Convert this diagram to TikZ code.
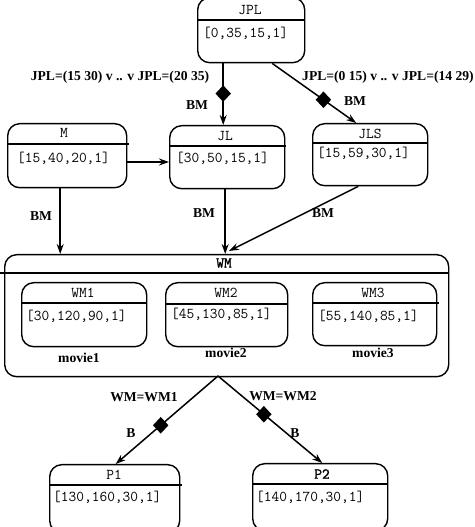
\documentclass[tikz,border=0pt]{standalone}
\usepackage{fontspec}
\setmainfont{Liberation Serif}
\setmonofont{Latin Modern Mono}[AutoFakeBold=1.6]
\usetikzlibrary{arrows.meta,calc,shapes.geometric}
\tikzset{
  box/.style={draw, line width=1.4pt, rounded corners=12pt, inner sep=0pt},
  divline/.style={line width=1.2pt},
  thk/.style={line width=2.6pt},
  mono/.style={font=\fontsize{15}{17}\selectfont\ttfamily, inner sep=0pt},
  monob/.style={font=\fontsize{15}{17}\selectfont\ttfamily\bfseries, inner sep=0pt},
  lbl/.style={font=\fontsize{13.6}{16}\selectfont\bfseries, inner sep=0pt},
  arr/.style={line width=1.5pt, -{Stealth[length=10pt,width=7pt]}},
  diam/.style={diamond, fill=black, draw=black, inner sep=0pt, minimum width=14pt, minimum height=15pt}
}
\begin{document}
\begin{tikzpicture}[x=1pt,y=1pt]
\useasboundingbox (0,0) rectangle (474,527);
\fill[white] (0,0) rectangle (474,527);
% JPL
\node[box, minimum width=107pt, minimum height=65pt, anchor=north west] (jpl) at (197,530) {};
\draw[divline] ($(jpl.north west)+(0,-23)$) -- ($(jpl.north east)+(0,-23)$);
\node[mono] (jplt) at (250,517) {JPL};
\node[mono, anchor=west] (jplv) at (203,494) {[0,35,15,1]};
% M
\node[box, minimum width=119pt, minimum height=64pt, anchor=north west] (m) at (7,404) {};
\draw[divline] ($(m.north west)+(0,-21)$) -- ($(m.north east)+(2,-21)$);
\draw[thk] ($(m.north west)+(23,-21)$) -- ($(m.north west)+(41,-21)$);
\node[mono] (mt) at (64,394) {M};
\node[mono, anchor=west] (mv) at (17,369) {[15,40,20,1]};
% JL
\node[box, minimum width=115pt, minimum height=63pt, anchor=north west] (jl) at (169,402) {};
\draw[divline] ($(jl.north west)+(0,-21)$) -- ($(jl.north east)+(1,-21)$);
\node[mono] (jlt) at (225,391) {JL};
\node[mono, anchor=west] (jlv) at (176,369) {[30,50,15,1]};
% JLS
\node[box, minimum width=115pt, minimum height=62pt, anchor=north west] (jls) at (312,404) {};
\draw[divline] ($(jls.north west)+(0,-20)$) -- ($(jls.north east)+(0,-20)$);
\node[mono] (jlst) at (370,393) {JLS};
\node[mono, anchor=west] (jlsv) at (317,374) {[15,59,30,1]};
% WM
\node[box, minimum width=444pt, minimum height=122pt, anchor=north west] (wm) at (4,273) {};
\draw[divline] ($(wm.north west)+(-4,-19)$) -- ($(wm.north east)+(0,-19)$);
\draw[thk] (310,254) -- (373,254);
\node[monob] (wmt) at (224,264) {WM};
% WM1
\node[box, minimum width=125pt, minimum height=64pt, anchor=north west] (wm1) at (21,245) {};
\draw[divline] ($(wm1.north west)+(0,-21)$) -- ($(wm1.north east)+(0,-21)$);
\draw[thk] (72,224) -- (88,224);
\node[mono] (wm1t) at (83,234) {WM1};
\node[mono, anchor=west] (wm1v) at (26,211) {[30,120,90,1]};
\node[lbl] (mv1) at (79,169) {movie1};
% WM2
\node[box, minimum width=122pt, minimum height=64pt, anchor=north west] (wm2) at (165,245) {};
\draw[divline] ($(wm2.north west)+(0,-22)$) -- ($(wm2.north east)+(0,-22)$);
\draw[thk] (204,223) -- (222,223);
\node[mono] (wm2t) at (226,234) {WM2};
\node[mono, anchor=west] (wm2v) at (171,213) {[45,130,85,1]};
\node[lbl] (mv2) at (226,174) {movie2};
% WM3
\node[box, minimum width=124pt, minimum height=63pt, anchor=north west] (wm3) at (312,245) {};
\draw[divline] ($(wm3.north west)+(0,-21)$) -- ($(wm3.north east)+(2,-21)$);
\node[mono] (wm3t) at (373,234) {WM3};
\node[mono, anchor=west] (wm3v) at (318,211) {[55,140,85,1]};
\node[lbl] (mv3) at (373,174) {movie3};
% P1
\node[box, minimum width=130pt, minimum height=68pt, anchor=north west] (p1) at (49,63) {};
\draw[divline] ($(p1.north west)+(0,-21)$) -- ($(p1.north east)+(2,-21)$);
\node[mono] (p1t) at (114,52) {P1};
\node[mono, anchor=west] (p1v) at (53,30) {[130,160,30,1]};
% P2
\node[box, minimum width=135pt, minimum height=67pt, anchor=north west] (p2) at (252,64) {};
\draw[divline] ($(p2.north west)+(0,-21)$) -- ($(p2.north east)+(0,-21)$);
\node[monob] (p2t) at (322,53) {P2};
\node[mono, anchor=west] (p2v) at (256,30) {[140,170,30,1]};
% connectors
\draw[arr] ([xshift=-4pt]jl.north |- jpl.south) -- node[diam, pos=0.49] {} ([xshift=-4pt]jl.north);
\draw[arr] ([xshift=21pt]jpl.south) -- node[diam, pos=0.61] {} ([xshift=-14pt]jls.north);
\draw[arr] (m.east |- 0,365) -- (jl.west |- 0,365);
\draw[arr] ([xshift=-7pt]m.south) -- ([xshift=-7pt]m.south |- wm.north);
\draw[arr] ([xshift=-2pt]jl.south) -- ([xshift=-2pt]jl.south |- wm.north);
\draw[arr] ([xshift=-12pt]jls.south) -- (229,276);
\coordinate (fork) at (218,151);
\draw[arr] (fork) -- node[diam, pos=0.56] {} ([xshift=1pt]p1.north);
\draw[arr] (fork) -- node[diam, pos=0.44] {} ([xshift=2pt]p2.north);
% labels
\node[lbl] (l1) at (120,450) {JPL=(15 30) v .. v JPL=(20 35)};
\node[lbl, anchor=west] (l2) at (302,450) {JPL=(0 15) v .. v JPL=(14 29)};
\node[lbl] (b1) at (197,422) {BM};
\node[lbl] (b2) at (355,426) {BM};
\node[lbl] (b3) at (41,311) {BM};
\node[lbl] (b4) at (204,314) {BM};
\node[lbl] (b5) at (323,314) {BM};
\node[lbl] (w1) at (144,130) {WM=WM1};
\node[lbl] (w2) at (283,131) {WM=WM2};
\node[lbl] (bb1) at (131,94) {B};
\node[lbl] (bb2) at (295,94) {B};
\end{tikzpicture}
\end{document}
